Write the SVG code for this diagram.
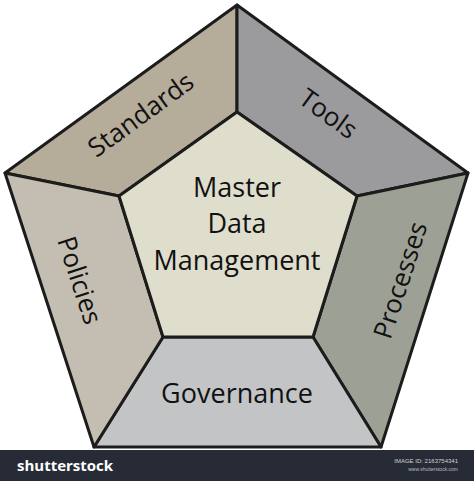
<svg xmlns="http://www.w3.org/2000/svg" width="474" height="481" viewBox="0 0 474 481">
<style>
.seg{stroke:#1c1c1c;stroke-width:3;stroke-linejoin:round}
.lbl{font-family:"Open Sans","Liberation Sans",sans-serif;fill:#111;text-anchor:middle}
</style>
<rect width="474" height="481" fill="#ffffff"/>
<g id="standards">
<polygon class="seg" fill="#b6ac9a" points="5,173 237,5 237,112 119,196"/>
<text class="lbl" font-size="26" transform="translate(146,122) rotate(-36)">Standards</text>
</g>
<g id="tools">
<polygon class="seg" fill="#9b9b9d" points="237,5 468,173 357,196 237,112"/>
<text class="lbl" font-size="26" transform="translate(323,121) rotate(36)">Tools</text>
</g>
<g id="processes">
<polygon class="seg" fill="#9da195" points="468,173 381,447 313,337 357,196"/>
<text class="lbl" font-size="26" transform="translate(409,283) rotate(-72)">Processes</text>
</g>
<g id="governance">
<polygon class="seg" fill="#c3c4c6" points="381,447 94,447 163,337 313,337"/>
<text class="lbl" font-size="27" x="237" y="403">Governance</text>
</g>
<g id="policies">
<polygon class="seg" fill="#c4bdb1" points="94,447 5,173 119,196 163,337"/>
<text class="lbl" font-size="26" transform="translate(71,283) rotate(72)">Policies</text>
</g>
<g id="master-data-management">
<polygon class="seg" fill="#dfddcc" points="237,112 357,196 313,337 163,337 119,196"/>
<text class="lbl" font-size="27" x="237" y="197">Master</text>
<text class="lbl" font-size="27" x="237" y="233">Data</text>
<text class="lbl" font-size="27" x="237" y="270">Management</text>
</g>
<g id="connectors"></g>
<g id="footer">
<rect x="0" y="450" width="474" height="31" fill="#262b35"/>
<text x="17" y="471" font-family="Open Sans,Liberation Sans,sans-serif" font-size="15" font-weight="bold" fill="#ffffff">shutterstock</text>
<text x="458" y="463" font-family="Liberation Sans,sans-serif" font-size="6" fill="#d0d3d8" text-anchor="end">IMAGE ID: 2163754341</text>
<text x="458" y="471" font-family="Liberation Sans,sans-serif" font-size="5" fill="#b8bcc4" text-anchor="end">www.shutterstock.com</text>
</g>
</svg>
